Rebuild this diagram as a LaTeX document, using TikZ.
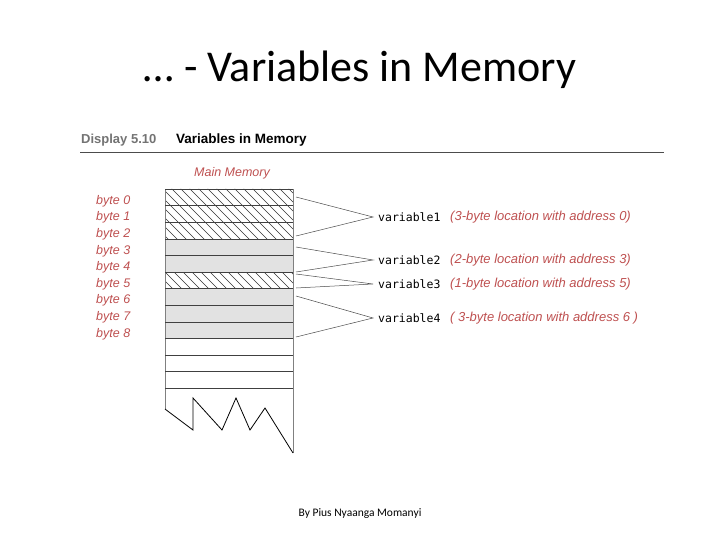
\documentclass[tikz,border=0pt]{standalone}
\usepackage{fontspec}
\setmainfont{Carlito}
\newfontfamily\lab{Liberation Sans}
\newfontfamily\mono{DejaVu Sans Mono}
\definecolor{redt}{RGB}{190,80,80}
\definecolor{cellgray}{RGB}{226,226,226}
\begin{document}
\begin{tikzpicture}[x=1pt,y=-1pt,
  red/.style={text=redt,font=\lab\itshape\fontsize{12.5}{12.5}\selectfont,anchor=west,inner sep=0},
  var/.style={font=\mono\fontsize{11.5}{11.5}\selectfont,anchor=west,inner sep=0},
  desc/.style={text=redt,font=\lab\itshape\fontsize{13}{13}\selectfont,anchor=west,inner sep=0},
  lk/.style={draw=black!70,line width=0.5pt}]
\useasboundingbox (0,0) rectangle (720,540);
\node (title) at (360,70) {\fontsize{44}{44}\selectfont … - Variables in Memory};
\node[anchor=west,inner sep=0,text=black!55,font=\lab\bfseries\fontsize{13}{13}\selectfont] (disp) at (81,140) {Display 5.10};
\node[anchor=west,inner sep=0,font=\lab\bfseries\fontsize{13.5}{13.5}\selectfont] (vim) at (176,140) {Variables in Memory};
\draw[black!70,line width=0.8pt] (80,152) -- (664,152);
\node[red,anchor=center] (mm) at (232,173) {Main Memory};
% cells
\foreach \i in {3,4,6,7,8} \fill[cellgray] (165,{189+16.6*\i}) rectangle (293,{189+16.6*(\i+1)});
\begin{scope}
\clip (165,189) rectangle (293,238.8) (165,272) rectangle (293,288.6);
\foreach \k in {-13,...,17} \draw[black!80,line width=0.5pt] ({150+9*\k},185) -- ({150+9*\k+110},295);
\end{scope}
\draw[black!50] (165,409) -- (165,189) -- (293,189) -- (293,453);
\draw[black,line width=0.8pt] (165,409) -- (193,430) -- (193,398) -- (222,430) -- (236,398) -- (250,430) -- (265,408) -- (293,453);
\foreach \i in {0,...,12} \draw[black!75] (165,{189+16.6*\i}) -- (293,{189+16.6*\i});
\foreach \i in {0,...,8} \node[red] (b\i) at (96,{201+16.6*\i}) {byte \i};
% labels
\node[var] (v1) at (378,217) {variable1};
\node[desc] (d1) at (450,217) {(3-byte location with address 0)};
\node[var] (v2) at (378,260) {variable2};
\node[desc] (d2) at (450,260) {(2-byte location with address 3)};
\node[var] (v3) at (378,284) {variable3};
\node[desc] (d3) at (450,284) {(1-byte location with address 5)};
\node[var] (v4) at (378,318) {variable4};
\node[desc] (d4) at (450,318) {( 3-byte location with address 6 )};
\coordinate (t1) at (373,217);\coordinate (t2) at (373,260);
\coordinate (t3) at (373,284);\coordinate (t4) at (373,318);
\draw[lk] (296,197) -- (t1) -- (296,236);
\draw[lk] (296,247) -- (t2) -- (296,272);
\draw[lk] (296,274) -- (t3) -- (296,288);
\draw[lk] (296,296) -- (t4) -- (296,337);
\node[font=\fontsize{11.5}{11.5}\selectfont] (by) at (360,514) {By Pius Nyaanga Momanyi};
\end{tikzpicture}
\end{document}
